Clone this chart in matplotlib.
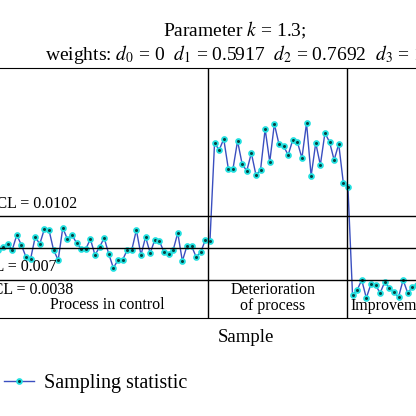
import matplotlib.pyplot as plt
import numpy as np

plt.rcParams['font.family'] = ['Liberation Serif', 'DejaVu Serif']
plt.rcParams['mathtext.fontset'] = 'stix'

control = [0.0068, 0.0071, 0.0074, 0.0068, 0.0083, 0.0073, 0.0061, 0.0059, 0.0081, 0.0074,
           0.0089, 0.0088, 0.0068, 0.0058, 0.0090, 0.0079, 0.0083, 0.0075, 0.0069, 0.0069,
           0.0079, 0.0063, 0.0071, 0.0080, 0.0064, 0.0050, 0.0058, 0.0058, 0.0068, 0.0068,
           0.0088, 0.0063, 0.0081, 0.0065, 0.0078, 0.0077, 0.0066, 0.0064, 0.0068, 0.0085,
           0.0057, 0.0072, 0.0072, 0.0061, 0.0066, 0.0078, 0.0077]
deterioration = [0.0175, 0.0168, 0.0179, 0.0149, 0.0149, 0.0177, 0.0154, 0.0147, 0.0165, 0.0143,
                 0.0148, 0.0189, 0.0156, 0.0194, 0.0174, 0.0172, 0.0163, 0.0178, 0.0176, 0.0160,
                 0.0195, 0.0142, 0.0175, 0.0153, 0.0185, 0.0176, 0.0158, 0.0174, 0.0135, 0.0131]
improvement = [0.0023, 0.0028, 0.0038, 0.0020, 0.0034, 0.0033, 0.0025, 0.0036, 0.0030, 0.0026,
               0.0021, 0.0038, 0.0025, 0.0031, 0.0033]
UCL, CL, LCL = 0.0102, 0.007, 0.0038
PHASE_BREAKS = [49.6, 79.7]

values = control + deterioration + improvement
x = np.arange(4, 4 + len(values))

fig = plt.figure(figsize=(4.16, 4.16), dpi=100)
ax = fig.add_axes([0, 98 / 416, 1, 250 / 416])
ax.plot(x, values, color='#3a4fc0', lw=1, marker='o', ms=3.5,
        mfc='#064040', mec='#22e0e0', mew=1.3, label='Sampling statistic')
for lvl in (UCL, CL, LCL):
    ax.axhline(lvl, color='black', lw=1)
for b in PHASE_BREAKS:
    ax.axvline(b, color='black', lw=1)
ax.set_xlim(4.35, 94.8)
ax.set_ylim(0, 0.025)
ax.set_xticks([])
ax.set_yticks([])
ax.spines['left'].set_visible(False)
ax.spines['right'].set_visible(False)

def px(xp, yp):
    return xp / 416, 1 - yp / 416

fs = 11.5
fig.text(*px(77, 204), 'UCL = 0.0102', ha='right', va='center', fontsize=fs)
fig.text(*px(57, 267), 'CL = 0.007', ha='right', va='center', fontsize=fs)
fig.text(*px(73, 290), 'LCL = 0.0038', ha='right', va='center', fontsize=fs)
fig.text(*px(107, 305), 'Process in control', ha='center', va='center', fontsize=fs)
fig.text(*px(273, 298), 'Deterioration\nof process', ha='center', va='center',
         fontsize=fs, linespacing=1.0)
fig.text(*px(350, 306), 'Improvement', ha='left', va='center', fontsize=fs)
fig.text(*px(235, 30), 'Parameter $k$ = 1.3;', ha='center', va='center', fontsize=14)
fig.text(*px(235, 55), 'weights: $d_0$ = 0  $d_1$ = 0.5917  $d_2$ = 0.7692  $d_3$ = 1',
         ha='center', va='center', fontsize=14)
fig.text(*px(246, 337), 'Sample', ha='center', va='center', fontsize=13.5)
fig.legend(loc='center left', bbox_to_anchor=(-0.035, 1 - 383 / 416), frameon=False,
           fontsize=14.5, handlelength=1.5, handletextpad=0.5)

fig.savefig('out.png', dpi=100)
